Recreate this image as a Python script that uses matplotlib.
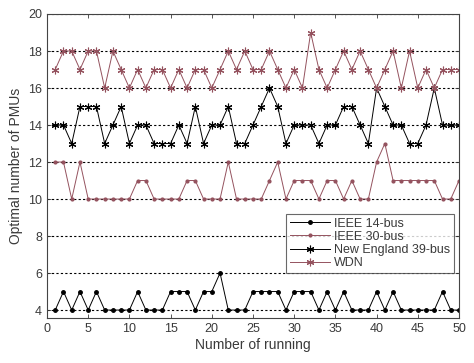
import matplotlib
matplotlib.use("Agg")
import matplotlib.pyplot as plt
import numpy as np

plt.rcParams['font.family'] = ['Liberation Sans', 'DejaVu Sans']

runs = list(range(1, 51))
ieee14 = [4,5,4,5,4,5,4,4,4,4, 5,4,4,4,5,5,5,4,5,5, 6,4,4,4,5,5,5,5,4,5,
          5,5,4,5,4,5,4,4,4,5, 4,5,4,4,4,4,4,5,4,4]
ieee30 = [12,12,10,12,10,10,10,10,10,10, 11,11,10,10,10,10,11,11,10,10,
          10,12,10,10,10,10,11,12,10,11, 11,11,10,11,11,10,11,10,10,12,
          13,11,11,11,11,11,11,10,10,11]
ne39 = [14,14,13,15,15,15,13,14,15,13, 14,14,13,13,13,14,13,15,13,14,
        14,15,13,13,14,15,16,15,13,14, 14,14,13,14,14,15,15,14,13,16,
        15,14,14,13,13,14,16,14,14,14]
wdn = [17,18,18,17,18,18,16,18,17,16, 17,16,17,17,16,17,16,17,17,16,
       17,18,17,18,17,17,18,17,16,17, 16,19,17,16,17,18,17,18,17,16,
       17,18,16,18,16,17,16,17,17,17]
labels = ['IEEE 14-bus', 'IEEE 30-bus', 'New England 39-bus', 'WDN']
xticks = [0, 5, 10, 15, 20, 25, 30, 35, 40, 45, 50]
yticks = [4, 6, 8, 10, 12, 14, 16, 18, 20]

brown = '#94525e'
txt = '#3a3a3a'

fig = plt.figure(figsize=(4.74, 3.63), dpi=100)
ax = fig.add_axes([47/474, 1-318/363, (459-47)/474, (318-14)/363])

star = (6, 2, 0)
ax.plot(runs, ieee14, color='black', lw=0.7, marker='.', ms=5, label=labels[0])
ax.plot(runs, ieee30, color=brown, lw=0.7, marker='.', ms=4, label=labels[1])
ax.plot(runs, ne39, color='black', lw=0.7, marker=star, ms=5.5, mew=0.8, label=labels[2])
ax.plot(runs, wdn, color=brown, lw=0.7, marker=star, ms=5.5, mew=0.8, label=labels[3])

ax.set_xlim(0, 50)
ax.set_ylim(3.57, 20)
ax.set_xticks(xticks)
ax.set_yticks(yticks)
ax.yaxis.grid(True, linestyle=(0, (2, 2)), color='black', lw=0.8)
ax.set_axisbelow(True)
ax.tick_params(direction='in', top=True, right=True, labelsize=9, colors=txt,
               length=3, width=0.6)
for sp in ax.spines.values():
    sp.set_color('#444444')
    sp.set_linewidth(0.8)
ax.set_xlabel('Number of running', fontsize=10, color=txt, labelpad=2)
ax.set_ylabel('Optimal number of PMUs', fontsize=10, color=txt, labelpad=4)

leg = ax.legend(loc='lower right', bbox_to_anchor=(0.987, 0.148), fontsize=9,
                frameon=True, fancybox=False, edgecolor='#444444',
                borderpad=0.3, labelspacing=0.1, handlelength=3.2,
                handletextpad=0.3, borderaxespad=0)
leg.get_frame().set_linewidth(0.8)
for t in leg.get_texts():
    t.set_color(txt)

fig.savefig('out.png', dpi=100)
